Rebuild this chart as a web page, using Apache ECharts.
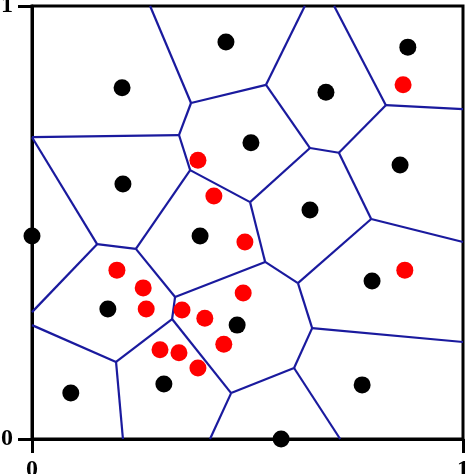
<!DOCTYPE html>
<html><head><meta charset="utf-8">
<script src="https://cdn.jsdelivr.net/npm/echarts@6/dist/echarts.min.js"></script>
<style>html,body{margin:0;padding:0;background:#fff}#c{width:474px;height:474px}</style>
</head><body><div id="c"></div>
<script>
// Tick labels
const xTickLabels = ['0', '1'];
const yTickLabels = ['0', '1'];

// Black sites [x, y]
const blackPoints = [
  [0.450, 0.917], [0.872, 0.905], [0.209, 0.811], [0.682, 0.801], [0.508, 0.684],
  [0.854, 0.633], [0.211, 0.589], [0.645, 0.529], [0.390, 0.469], [0.000, 0.469],
  [0.789, 0.365], [0.176, 0.300], [0.476, 0.263], [0.090, 0.106], [0.306, 0.127],
  [0.766, 0.125], [0.578, 0.000]
];

// Red points [x, y]
const redPoints = [
  [0.385, 0.644], [0.422, 0.561], [0.494, 0.455], [0.861, 0.818], [0.865, 0.390],
  [0.197, 0.390], [0.258, 0.349], [0.265, 0.300], [0.348, 0.298], [0.401, 0.279],
  [0.490, 0.337], [0.445, 0.219], [0.297, 0.206], [0.341, 0.199], [0.385, 0.164]
];

// Voronoi vertices (data coordinates)
const vertices = {
  T1: [0.274, 1.0], T2: [0.633, 1.0], T3: [0.701, 1.0],
  A: [0.369, 0.776], B: [0.543, 0.818], C: [0.341, 0.702],
  L1: [0.0, 0.697], D: [0.151, 0.450], L2: [0.0, 0.293], L3: [0.0, 0.263],
  E: [0.367, 0.621], F: [0.506, 0.547], G: [0.241, 0.439],
  H: [0.332, 0.328], J: [0.325, 0.277], I: [0.195, 0.178], B1: [0.211, 0.0],
  K: [0.541, 0.409], L: [0.617, 0.360], M: [0.787, 0.508], R1: [1.0, 0.455],
  S: [0.712, 0.661], Q: [0.645, 0.672], R: [0.821, 0.771], R2: [1.0, 0.762],
  N: [0.650, 0.256], R3: [1.0, 0.224], O: [0.608, 0.164], P: [0.462, 0.106],
  B2: [0.413, 0.0], B3: [0.715, 0.0]
};

// Voronoi edges (vertex name pairs)
const edges = [
  ['T1','A'], ['A','B'], ['B','T2'], ['A','C'], ['C','L1'], ['L1','D'], ['C','E'],
  ['E','F'], ['E','G'], ['D','G'], ['D','L2'], ['G','H'], ['H','K'], ['F','K'],
  ['H','J'], ['J','I'], ['I','L3'], ['I','B1'], ['K','L'], ['L','M'], ['M','R1'],
  ['M','S'], ['S','Q'], ['Q','B'], ['Q','F'], ['S','R'], ['R','T3'], ['R','R2'],
  ['L','N'], ['N','R3'], ['N','O'], ['O','P'], ['O','B3'], ['P','B2'], ['P','J']
];

const chart = echarts.init(document.getElementById('c'));
const labelStyle = { fontFamily: 'Liberation Serif', fontWeight: 'bold', fontSize: 24, color: '#000' };
const axisCommon = {
  type: 'value', min: 0, max: 1, interval: 1,
  splitLine: { show: false },
  axisLine: { show: true, lineStyle: { color: '#000', width: 3 } },
  axisTick: { show: true, length: 14, lineStyle: { color: '#000', width: 3 } }
};
chart.setOption({
  animation: false,
  backgroundColor: '#fff',
  grid: { left: 32, top: 6, width: 431, height: 433, containLabel: false, outerBoundsMode: 'none',
    show: true, borderColor: '#000', borderWidth: 3, backgroundColor: 'transparent' },
  xAxis: Object.assign({}, axisCommon, {
    axisLabel: Object.assign({ margin: 19, showMaxLabel: true, showMinLabel: true,
      formatter: v => xTickLabels[Math.round(v)] }, labelStyle)
  }),
  yAxis: Object.assign({}, axisCommon, {
    axisLabel: Object.assign({ margin: 19, showMaxLabel: true, showMinLabel: true,
      formatter: v => yTickLabels[Math.round(v)] }, labelStyle)
  }),
  series: [
    {
      type: 'lines', coordinateSystem: 'cartesian2d', silent: true,
      lineStyle: { color: '#1a1a9e', width: 2.2, opacity: 1 },
      data: edges.map(e => ({ coords: [vertices[e[0]], vertices[e[1]]] }))
    },
    {
      type: 'scatter', clip: false, symbol: 'circle', symbolSize: 17,
      itemStyle: { color: '#000', opacity: 1 }, data: blackPoints, z: 5
    },
    {
      type: 'scatter', clip: false, symbol: 'circle', symbolSize: 17,
      itemStyle: { color: '#ff0000', opacity: 1 }, data: redPoints, z: 5
    }
  ]
});
</script>
</body></html>
